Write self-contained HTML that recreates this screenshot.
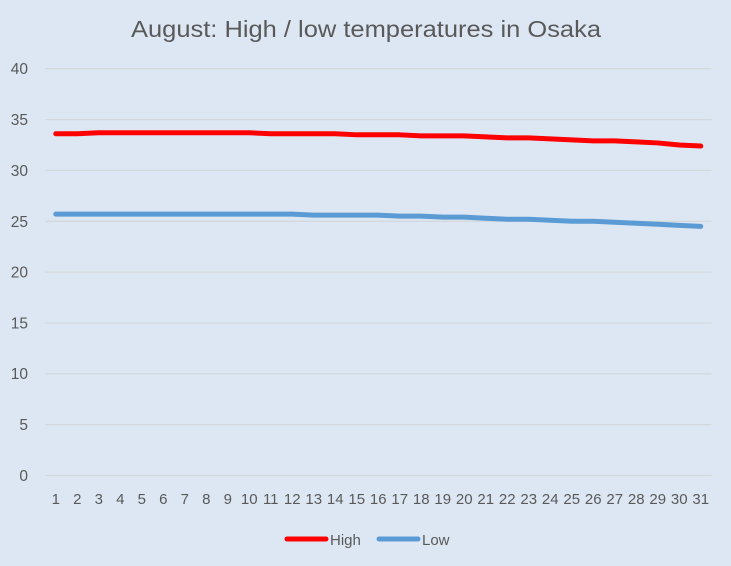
<!DOCTYPE html>
<html><head><meta charset="utf-8"><style>
html,body{margin:0;padding:0;background:#dde7f3;}
svg{display:block;font-family:"Liberation Sans",Arial,sans-serif;}
</style></head><body>
<svg width="731" height="566" viewBox="0 0 731 566" xmlns="http://www.w3.org/2000/svg">
<rect x="0" y="0" width="731" height="566" fill="#dde7f3"/>
<text x="366" y="37" font-size="23" fill="#595959" text-anchor="middle" textLength="470" lengthAdjust="spacingAndGlyphs">August: High / low temperatures in Osaka</text>
<g stroke="#d4d8dd" stroke-width="1.3">
<line x1="45" x2="711.5" y1="68.7" y2="68.7"/>
<line x1="45" x2="711.5" y1="119.6" y2="119.6"/>
<line x1="45" x2="711.5" y1="170.4" y2="170.4"/>
<line x1="45" x2="711.5" y1="221.3" y2="221.3"/>
<line x1="45" x2="711.5" y1="272.1" y2="272.1"/>
<line x1="45" x2="711.5" y1="323.0" y2="323.0"/>
<line x1="45" x2="711.5" y1="373.8" y2="373.8"/>
<line x1="45" x2="711.5" y1="424.7" y2="424.7"/>
<line x1="45" x2="711.5" y1="475.5" y2="475.5"/>
</g>
<g font-size="15.5" fill="#595959" text-anchor="end">
<text x="28" y="74">40</text>
<text x="28" y="125">35</text>
<text x="28" y="176">30</text>
<text x="28" y="227">25</text>
<text x="28" y="277.5">20</text>
<text x="28" y="328.5">15</text>
<text x="28" y="379">10</text>
<text x="28" y="430">5</text>
<text x="28" y="481">0</text>
</g>
<g font-size="15" fill="#595959" text-anchor="middle" id="xl"></g>
<polyline id="hi" fill="none" stroke="#ff0000" stroke-width="5" stroke-linecap="round" stroke-linejoin="round" points=""/>
<polyline id="lo" fill="none" stroke="#5b9bd5" stroke-width="5" stroke-linecap="round" stroke-linejoin="round" points=""/>
<line x1="287" x2="326" y1="539" y2="539" stroke="#ff0000" stroke-width="5" stroke-linecap="round"/>
<text x="330" y="545" font-size="15" fill="#595959">High</text>
<line x1="379" x2="418" y1="539" y2="539" stroke="#5b9bd5" stroke-width="5" stroke-linecap="round"/>
<text x="422" y="545" font-size="15" fill="#595959">Low</text>
</svg>
<script>
var hi=[33.6,33.6,33.7,33.7,33.7,33.7,33.7,33.7,33.7,33.7,33.6,33.6,33.6,33.6,33.5,33.5,33.5,33.4,33.4,33.4,33.3,33.2,33.2,33.1,33.0,32.9,32.9,32.8,32.7,32.5,32.4];
var lo=[25.7,25.7,25.7,25.7,25.7,25.7,25.7,25.7,25.7,25.7,25.7,25.7,25.6,25.6,25.6,25.6,25.5,25.5,25.4,25.4,25.3,25.2,25.2,25.1,25.0,25.0,24.9,24.8,24.7,24.6,24.5];
function X(i){return 55.75+21.5*i;}
function Y(v){return 475.5-10.17*v;}
var ph=[],pl=[],g=document.getElementById('xl'),ns="http://www.w3.org/2000/svg";
for(var i=0;i<31;i++){
 ph.push(X(i).toFixed(2)+","+Y(hi[i]).toFixed(2));
 pl.push(X(i).toFixed(2)+","+Y(lo[i]).toFixed(2));
 var t=document.createElementNS(ns,'text');
 t.setAttribute('x',X(i).toFixed(2));t.setAttribute('y','504');
 t.textContent=String(i+1);g.appendChild(t);
}
document.getElementById('hi').setAttribute('points',ph.join(' '));
document.getElementById('lo').setAttribute('points',pl.join(' '));
</script>
</body></html>
